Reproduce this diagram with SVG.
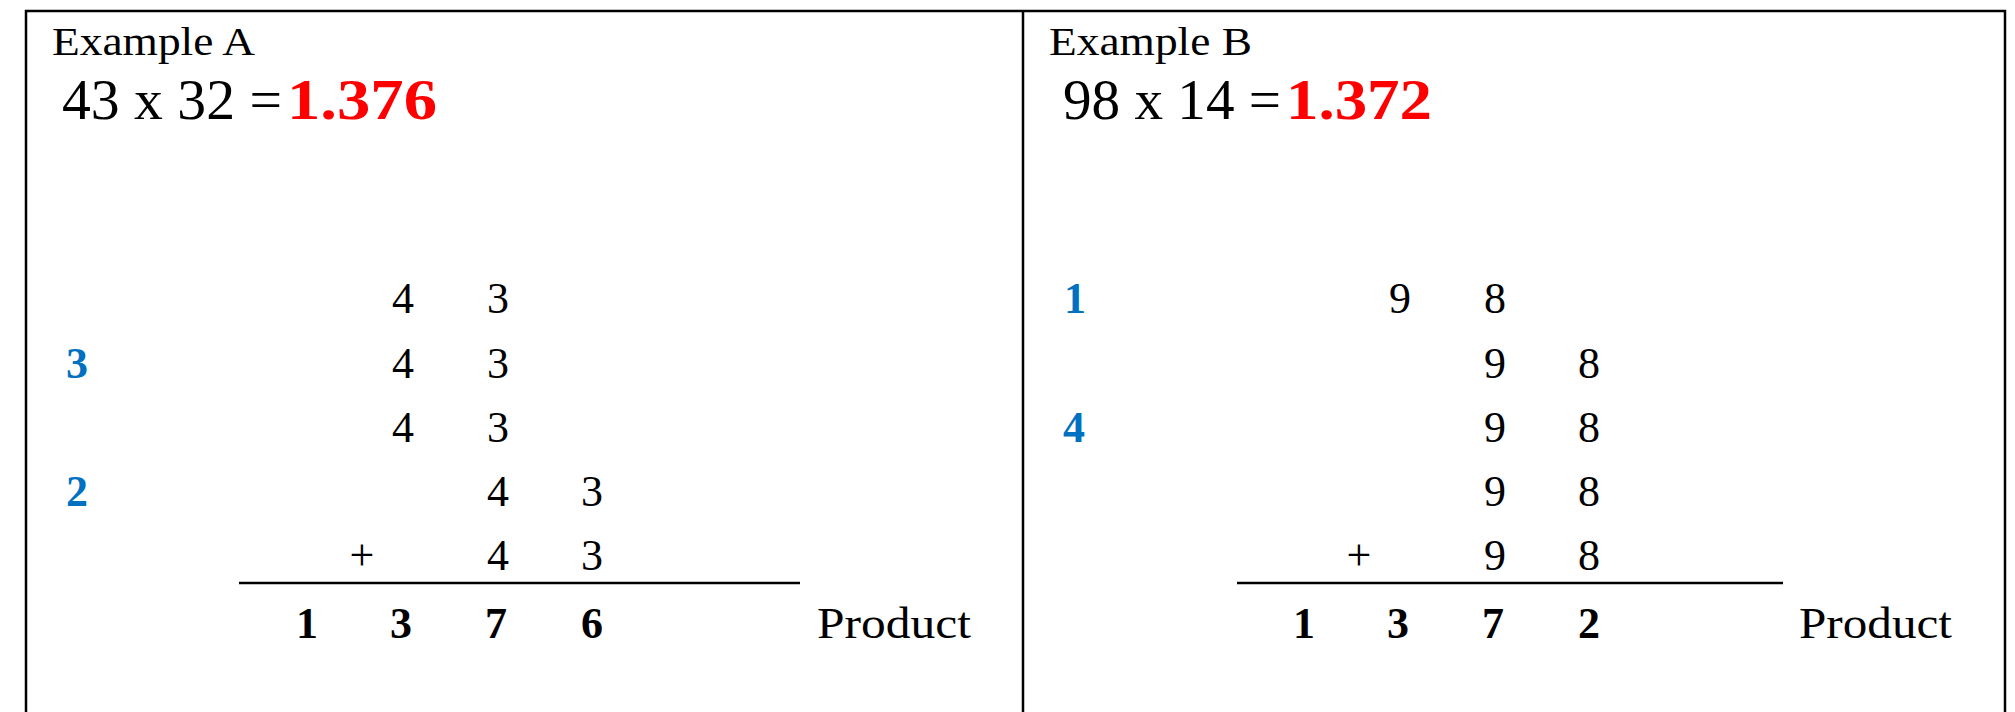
<svg xmlns="http://www.w3.org/2000/svg" width="2015" height="712" viewBox="0 0 2015 712">
<style>
  text { font-family: "Liberation Serif", "Times New Roman", serif; fill: #000; }
  .title { font-size: 41px; }
  .eq { font-size: 56px; }
  .ans { font-size: 56px; font-weight: bold; fill: #FF0000; }
  .d { font-size: 44px; text-anchor: middle; }
  .b { font-size: 44px; text-anchor: middle; font-weight: bold; }
  .blue { font-size: 44px; text-anchor: middle; font-weight: bold; fill: #0070C0; }
  .lbl { font-size: 45px; }
  .frame { stroke: #000; stroke-width: 2.5; fill: none; }
  .rule { stroke: #000; stroke-width: 2.5; }
</style>
<rect width="2015" height="712" fill="#fff"/>
<g id="frame">
  <path class="frame" d="M26 712 V11 H2005 V712 M1023 11 V712"/>
</g>
<g id="exampleA">
  <text class="title" x="52" y="55" textLength="203" lengthAdjust="spacingAndGlyphs">Example A</text>
  <text class="eq" x="62" y="119" textLength="220" lengthAdjust="spacingAndGlyphs">43 x 32 =</text>
  <text class="ans" x="287" y="119" textLength="150" lengthAdjust="spacingAndGlyphs">1.376</text>
  <text class="d" x="403" y="313">4</text><text class="d" x="498" y="313">3</text>
  <text class="blue" x="77" y="378">3</text>
  <text class="d" x="403" y="378">4</text><text class="d" x="498" y="378">3</text>
  <text class="d" x="403" y="442">4</text><text class="d" x="498" y="442">3</text>
  <text class="blue" x="77" y="506">2</text>
  <text class="d" x="498" y="506">4</text><text class="d" x="592" y="506">3</text>
  <text class="d" x="362" y="570">+</text>
  <text class="d" x="498" y="570">4</text><text class="d" x="592" y="570">3</text>
  <line class="rule" x1="239" y1="583" x2="800" y2="583"/>
  <text class="b" x="307" y="638">1</text><text class="b" x="401" y="638">3</text>
  <text class="b" x="496" y="638">7</text><text class="b" x="592" y="638">6</text>
  <text class="lbl" x="817" y="638" textLength="154" lengthAdjust="spacingAndGlyphs">Product</text>
</g>
<g id="exampleB">
  <text class="title" x="1049" y="55" textLength="203" lengthAdjust="spacingAndGlyphs">Example B</text>
  <text class="eq" x="1063" y="119" textLength="218" lengthAdjust="spacingAndGlyphs">98 x 14 =</text>
  <text class="ans" x="1286" y="119" textLength="146" lengthAdjust="spacingAndGlyphs">1.372</text>
  <text class="blue" x="1075" y="313">1</text>
  <text class="d" x="1400" y="313">9</text><text class="d" x="1495" y="313">8</text>
  <text class="d" x="1495" y="378">9</text><text class="d" x="1589" y="378">8</text>
  <text class="blue" x="1074" y="442">4</text>
  <text class="d" x="1495" y="442">9</text><text class="d" x="1589" y="442">8</text>
  <text class="d" x="1495" y="506">9</text><text class="d" x="1589" y="506">8</text>
  <text class="d" x="1359" y="570">+</text>
  <text class="d" x="1495" y="570">9</text><text class="d" x="1589" y="570">8</text>
  <line class="rule" x1="1237" y1="583" x2="1783" y2="583"/>
  <text class="b" x="1304" y="638">1</text><text class="b" x="1398" y="638">3</text>
  <text class="b" x="1493" y="638">7</text><text class="b" x="1589" y="638">2</text>
  <text class="lbl" x="1799" y="638" textLength="153" lengthAdjust="spacingAndGlyphs">Product</text>
</g>
</svg>
